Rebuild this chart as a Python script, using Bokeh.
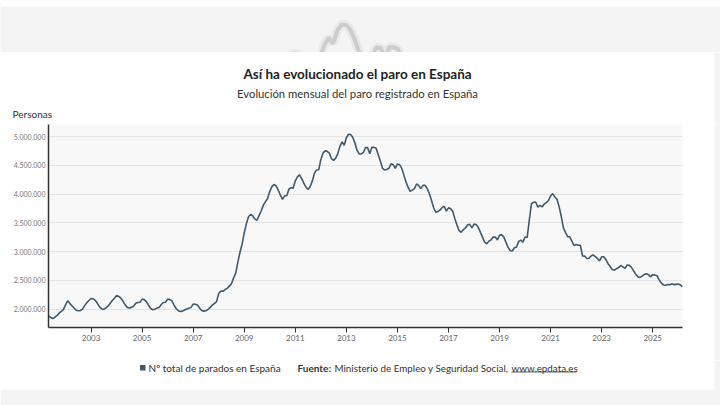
from bokeh.plotting import figure
from bokeh.models import Range1d, FixedTicker, Label, BoxAnnotation
from bokeh.layouts import column, row
from bokeh.embed import file_html
from bokeh.resources import INLINE

# ---------------- data (thousands of people, monthly, from May 2001) ----------------
anio_inicio = 2001
mes_inicio = 5
parados_miles = [
    1883, 1855, 1836, 1858, 1890, 1930, 1962, 1990,                      # 2001 (May-Dec)
    2075, 2145, 2100, 2058, 2020, 1980, 1970, 1975, 2000, 2060, 2110, 2150,  # 2002
    2185, 2180, 2150, 2100, 2040, 2005, 2000, 2020, 2050, 2100, 2150, 2190,  # 2003
    2237, 2220, 2190, 2140, 2075, 2030, 2017, 2030, 2050, 2100, 2115, 2120,  # 2004
    2174, 2165, 2130, 2070, 2010, 1990, 1998, 2017, 2030, 2080, 2115, 2120,  # 2005
    2174, 2165, 2145, 2070, 2010, 1970, 1958, 1965, 1983, 2000, 2015, 2030,  # 2006
    2087, 2085, 2070, 2020, 1975, 1965, 1970, 1995, 2030, 2070, 2100, 2130,  # 2007
    2270, 2315, 2310, 2340, 2360, 2400, 2440, 2540, 2625, 2818, 2989, 3129,  # 2008
    3327, 3482, 3605, 3645, 3620, 3565, 3545, 3629, 3710, 3808, 3869, 3924,  # 2009
    4048, 4130, 4167, 4142, 4066, 3982, 3908, 3970, 3973, 4086, 4110, 4100,  # 2010
    4231, 4299, 4334, 4270, 4190, 4122, 4080, 4131, 4226, 4361, 4420, 4422,  # 2011
    4599, 4712, 4751, 4744, 4714, 4615, 4587, 4626, 4705, 4834, 4908, 4849,  # 2012
    4980, 5040, 5035, 4989, 4891, 4763, 4699, 4698, 4724, 4811, 4808, 4701,  # 2013
    4814, 4812, 4796, 4684, 4572, 4449, 4420, 4427, 4448, 4526, 4512, 4448,  # 2014
    4525, 4512, 4452, 4334, 4215, 4120, 4047, 4068, 4094, 4176, 4150, 4094,  # 2015
    4151, 4153, 4094, 4011, 3891, 3767, 3684, 3698, 3721, 3764, 3789, 3703,  # 2016
    3760, 3750, 3702, 3573, 3461, 3363, 3336, 3382, 3411, 3467, 3474, 3413,  # 2017
    3477, 3470, 3422, 3335, 3252, 3163, 3135, 3182, 3203, 3254, 3252, 3202,  # 2018
    3285, 3290, 3255, 3164, 3079, 3016, 3011, 3066, 3080, 3178, 3199, 3164,  # 2019
    3254, 3246, 3549, 3832, 3858, 3863, 3773, 3802, 3776, 3827, 3852, 3889,  # 2020
    3965, 4009, 3950, 3911, 3782, 3615, 3417, 3334, 3258, 3257, 3183, 3106,  # 2021
    3124, 3112, 3108, 2923, 2922, 2881, 2884, 2924, 2942, 2914, 2882, 2838,  # 2022
    2909, 2911, 2862, 2789, 2739, 2689, 2677, 2703, 2722, 2759, 2734, 2707,  # 2023
    2768, 2760, 2727, 2666, 2608, 2562, 2551, 2573, 2600, 2614, 2599, 2561,  # 2024
    2599, 2593, 2580, 2513, 2455, 2420, 2415, 2427, 2422, 2440, 2425, 2430,  # 2025
    2435, 2420, 2385,                                                      # 2026 (Jan-Mar)
]

x_ticks = [2003, 2005, 2007, 2009, 2011, 2013, 2015, 2017, 2019, 2021, 2023, 2025]
x_tick_labels = ["2003", "2005", "2007", "2009", "2011", "2013", "2015", "2017",
                 "2019", "2021", "2023", "2025"]
y_ticks = [2000000, 2500000, 3000000, 3500000, 4000000, 4500000, 5000000]
y_tick_labels = ["2.000.000", "2.500.000", "3.000.000", "3.500.000", "4.000.000",
                 "4.500.000", "5.000.000"]

titulo = "Así ha evolucionado el paro en España"
subtitulo = "Evolución mensual del paro registrado en España"
eje_y = "Personas"
serie = "Nº total de parados en España"
fuente_b = "Fuente:"
fuente_r = "Ministerio de Empleo y Seguridad Social,"
fuente_url = "www.epdata.es"

fechas = [anio_inicio + (mes_inicio - 1 + i) / 12 for i in range(len(parados_miles))]
parados = [v * 1000 for v in parados_miles]

FONT = "Lato"
LINE = "#41596c"
GRAY = "#f4f4f4"


def bare(w, h, bg, xr=None, yr=None):
    f = figure(width=w, height=h, output_backend="svg", toolbar_location=None,
               x_range=xr if xr is not None else Range1d(0, w),
               y_range=yr if yr is not None else Range1d(h, 0),
               min_border=0, title=None, frame_align=False)
    f.axis.visible = False
    f.grid.visible = False
    f.outline_line_color = None
    f.background_fill_color = bg
    f.border_fill_color = bg
    return f


# ---------------- blurred header strip (page y 0-52) ----------------
g = bare(720, 52, GRAY, Range1d(2006.52, 2020.37), Range1d(4760000, 5280000))
g.add_layout(BoxAnnotation(bottom=5220000, fill_color="white", fill_alpha=0.85, line_color=None))
g.line(fechas, parados, line_color="#9a9a9a", line_width=9, line_alpha=0.12)
g.line(fechas, parados, line_color="#9a9a9a", line_width=4, line_alpha=0.35)

# ---------------- header texts (page y 52-124) ----------------
h = bare(720, 72, "white")
def T(fig, text, x, y, size, align="left", bold=False, color="#333333"):
    fig.add_layout(Label(x=x, y=y, text=text, text_font=FONT, text_font_size=size,
                         text_font_style="bold" if bold else "normal",
                         text_color=color, text_align=align, text_baseline="middle"))

T(h, titulo, 357, 21, "13.5px", align="center", bold=True, color="#222222")
T(h, subtitulo, 357, 41, "11.3px", align="center")
T(h, eje_y, 12, 61, "10px")
h.add_layout(BoxAnnotation(left=714, fill_color=GRAY, fill_alpha=1, line_color=None))

# ---------------- main chart (page y 124-360) ----------------
p = figure(width=714, height=236, output_backend="svg", toolbar_location=None,
           x_range=Range1d(fechas[0], fechas[-1]), y_range=Range1d(1680000, 5210000),
           min_border_left=48, min_border_right=32, min_border_top=0, min_border_bottom=33,
           title=None, frame_align=False)
p.background_fill_color = "#f8f8f8"
p.border_fill_color = "white"
p.outline_line_color = None

p.line(fechas, parados, line_color=LINE, line_width=1.6)

p.xaxis.ticker = FixedTicker(ticks=x_ticks)
p.xaxis.major_label_overrides = {t: l for t, l in zip(x_ticks, x_tick_labels)}
p.xaxis.axis_line_color = "#333333"
p.xaxis.axis_line_width = 1.5
p.xaxis.major_tick_line_color = "#333333"
p.xaxis.major_tick_out = 5
p.xaxis.major_tick_in = 0
p.xaxis.minor_tick_line_color = None
p.xaxis.major_label_text_font = FONT
p.xaxis.major_label_text_font_size = "8px"
p.xaxis.major_label_text_color = "#666666"
p.xaxis.major_label_standoff = 2

p.yaxis.ticker = FixedTicker(ticks=y_ticks)
p.yaxis.major_label_overrides = {t: l for t, l in zip(y_ticks, y_tick_labels)}
p.yaxis.axis_line_color = "#333333"
p.yaxis.axis_line_width = 1.5
p.yaxis.major_tick_line_color = None
p.yaxis.major_tick_out = 0
p.yaxis.major_tick_in = 0
p.yaxis.minor_tick_line_color = None
p.yaxis.major_label_text_font = FONT
p.yaxis.major_label_text_font_size = "7px"
p.yaxis.major_label_text_color = "#777777"
p.yaxis.major_label_standoff = 3

p.xgrid.visible = False
p.ygrid.grid_line_color = "#e4e4e4"
p.ygrid.grid_line_width = 1

side = bare(6, 236, GRAY)

# ---------------- footer (page y 360-405) ----------------
f = bare(720, 45, "white")
f.add_layout(BoxAnnotation(left=139.5, right=145, top=4.5, bottom=10, fill_color=LINE,
                           fill_alpha=1, line_color=None))
T(f, serie, 148, 7, "10px")
T(f, fuente_b, 297, 7, "10px", bold=True)
T(f, fuente_r, 334, 7, "9.8px")
T(f, fuente_url, 511, 7, "9.8px")
f.segment(x0=[511], y0=[11.5], x1=[576], y1=[11.5], line_color="#333333", line_width=0.8)
f.add_layout(BoxAnnotation(top=29, fill_color=GRAY, fill_alpha=1, line_color=None))
f.add_layout(BoxAnnotation(left=714, bottom=29, fill_color=GRAY, fill_alpha=1, line_color=None))

layout = column(g, h, row(p, side, spacing=0), f, spacing=0)
open("out.html", "w").write(file_html(layout, INLINE))
